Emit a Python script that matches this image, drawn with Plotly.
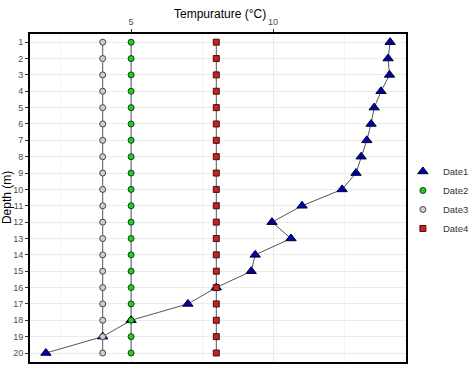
import plotly.graph_objects as go

depth = list(range(1, 21))
date1 = [14.12, 14.05, 14.1, 13.8, 13.56, 13.45, 13.3, 13.1, 12.92, 12.43,
         11.02, 9.96, 10.63, 9.37, 9.23, 8.0, 7.0, 5.0, 4.0, 2.0]
date2 = [5.0] * 20
date3 = [4.0] * 20
date4 = [8.0] * 20

series = [
    ("Date1", date1, dict(symbol="triangle-up", size=9, color="#0000a8", line=dict(color="#000033", width=1))),
    ("Date2", date2, dict(symbol="circle", size=6, color="#22cc22", line=dict(color="#114411", width=1))),
    ("Date3", date3, dict(symbol="circle", size=6, color="#cfcfcf", line=dict(color="#444444", width=1))),
    ("Date4", date4, dict(symbol="square", size=6, color="#cc1f1f", line=dict(color="#441111", width=1))),
]

fig = go.Figure()
for name, vals, mk in series:
    fig.add_trace(go.Scatter(x=vals, y=depth, mode="lines", showlegend=False,
                             line=dict(color="#555555", width=1), hoverinfo="skip"))
for name, vals, mk in series:
    fig.add_trace(go.Scatter(x=vals, y=depth, mode="markers", name=name, marker=mk))

fig.update_layout(
    width=474, height=371,
    margin=dict(l=30, r=68, t=34, b=9, autoexpand=False),
    paper_bgcolor="white", plot_bgcolor="white",
    font=dict(family="Liberation Sans, Arial, sans-serif", size=9, color="#4d4d4d"),
    legend=dict(xref="container", yref="container", x=0.85, y=0.461,
                xanchor="left", yanchor="middle",
                font=dict(size=9.5, color="#333333"), tracegroupgap=0,
                itemwidth=30, bgcolor="rgba(0,0,0,0)"),
    showlegend=True,
    annotations=[
        dict(text="Depth (m)", textangle=-90, xref="paper", yref="paper",
             x=-0.061, y=0.5, xanchor="center", yanchor="middle",
             showarrow=False, font=dict(size=12, color="black")),
        dict(text="Tempurature (°C)", xref="paper", yref="paper",
             x=0.505, y=1.061, xanchor="center", yanchor="middle",
             showarrow=False, font=dict(size=12, color="black")),
    ],
)
fig.update_xaxes(
    side="top", range=[1.44, 14.68], automargin=False,
    tickvals=[5, 10], ticktext=["5", "10"],
    ticks="outside", ticklen=3, tickcolor="#333333",
    showgrid=True, gridcolor="#ebebeb", gridwidth=1,
    minor=dict(tickvals=[2.5, 7.5, 12.5], showgrid=True, gridcolor="#f3f3f3", gridwidth=1),
    showline=True, linecolor="black", linewidth=2, mirror=True,
    zeroline=False,
)
fig.update_yaxes(
    range=[20.55, 0.5], automargin=False,
    tickvals=depth, ticktext=[str(d) for d in depth],
    ticks="outside", ticklen=3, tickcolor="#333333",
    showgrid=True, gridcolor="#ebebeb", gridwidth=1,
    showline=True, linecolor="black", linewidth=2, mirror=True,
    zeroline=False,
)

# remove the browser's default 8px body margin so the figure fills the window
fig.write_html("out.html", config={"displayModeBar": False},
               post_script="document.body.style.margin='0';")
